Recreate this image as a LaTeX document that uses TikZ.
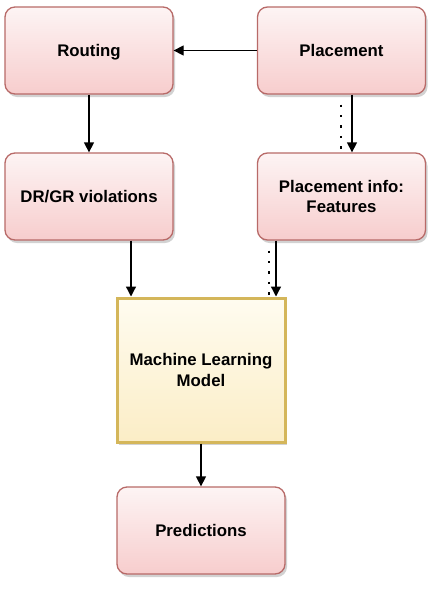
\documentclass[tikz,border=0pt]{standalone}
\usepackage{fontspec}
\setmainfont{Liberation Sans}
\usetikzlibrary{shadows,arrows.meta}
\definecolor{pinkb}{HTML}{B86A68}
\definecolor{pinkt}{HTML}{FDF4F4}
\definecolor{pinkbot}{HTML}{F7CDCD}
\definecolor{yelb}{HTML}{D4B65A}
\definecolor{yelt}{HTML}{FFFCF0}
\definecolor{yelbot}{HTML}{FBEDC6}
\tikzset{
  x=1pt,y=-1pt,
  pbox/.style={draw=pinkb,line width=1.3pt,rounded corners=10pt,top color=pinkt,bottom color=pinkbot,
    minimum width=168pt,minimum height=87pt,align=center,font=\fontsize{16.8}{20.5}\selectfont\bfseries,
    text height=12pt,text depth=0pt,
    drop shadow={opacity=0.35,shadow xshift=2pt,shadow yshift=-3pt},inner sep=0pt},
  mlbox/.style={draw=yelb,line width=3pt,top color=yelt,bottom color=yelbot,
    minimum width=168pt,minimum height=144pt,align=center,font=\fontsize{16.8}{20.5}\selectfont\bfseries,
    text height=32.5pt,text depth=0pt,
    drop shadow={opacity=0.35,shadow xshift=2pt,shadow yshift=-3pt},inner sep=0pt},
  twoline/.style={text height=32.5pt,text depth=0pt},
  arr/.style={line width=1.3pt,-{Triangle[width=10pt,length=10pt]}},
  dots/.style={line width=2.4pt,dash pattern=on 2.4pt off 8pt},
}
\begin{document}
\begin{tikzpicture}
\useasboundingbox[fill=white] (0,0) rectangle (436,590);
\node[pbox] (rout) at (89,50.5) {Routing};
\node[pbox] (place) at (341.5,50.5) {Placement};
\node[pbox] (drgr) at (89,196.5) {DR/GR violations};
\node[pbox,twoline] (pinfo) at (341.5,196.5) {Placement info:\\Features};
\node[mlbox] (ml) at (201,370) {Machine Learning\\Model};
\node[pbox] (pred) at (201,530.5) {Predictions};
\draw[arr] (place.west) -- (rout.east);
\draw[arr] (rout.south) -- (drgr.north);
\draw[arr] (place.south -| 352,0) -- (pinfo.north -| 352,0);
\draw[dots] (place.south -| 341,0) ++(0,10) -- (pinfo.north -| 341,0);
\draw[arr] (drgr.south -| 131,0) -- (ml.north -| 131,0);
\draw[arr] (pinfo.south -| 276,0) -- (ml.north -| 276,0);
\draw[dots] (pinfo.south -| 269,0) ++(0,10) -- (ml.north -| 269,0);
\draw[arr] (ml.south) -- (pred.north);
\end{tikzpicture}
\end{document}
